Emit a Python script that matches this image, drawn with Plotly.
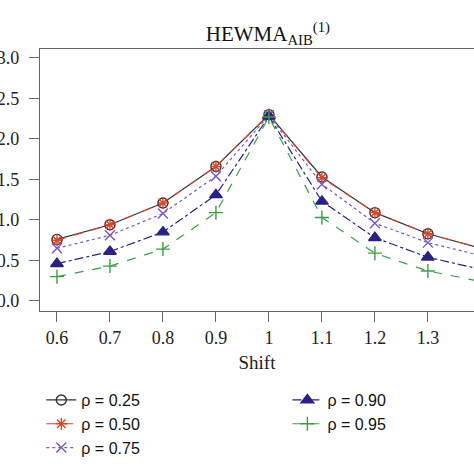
import plotly.graph_objects as go

shift = [0.6, 0.7, 0.8, 0.9, 1.0, 1.1, 1.2, 1.3, 1.4]
tick_labels = ['0.6', '0.7', '0.8', '0.9', '1', '1.1', '1.2', '1.3', '1.4']

rho_025 = [0.76, 0.94, 1.21, 1.66, 2.30, 1.53, 1.09, 0.83, 0.65]
rho_050 = [0.75, 0.94, 1.21, 1.66, 2.30, 1.52, 1.09, 0.83, 0.65]
rho_075 = [0.65, 0.81, 1.08, 1.54, 2.29, 1.44, 0.96, 0.72, 0.56]
rho_090 = [0.46, 0.61, 0.85, 1.31, 2.28, 1.23, 0.78, 0.54, 0.39]
rho_095 = [0.30, 0.43, 0.64, 1.09, 2.27, 1.03, 0.59, 0.37, 0.24]

serif = 'Liberation Serif'
sans = 'Liberation Sans'

fig = go.Figure()

# (values, name, colour, dash, marker symbol, legend)
series = [
    (rho_025, 'ρ = 0.25', '#333333', 'solid', 'circle-open', 'legend'),
    (rho_050, 'ρ = 0.50', '#d9472b', 'dash', 'asterisk-open', 'legend'),
    (rho_075, 'ρ = 0.75', '#7a58c0', 'dot', 'x-thin-open', 'legend'),
    (rho_090, 'ρ = 0.90', '#2a2185', 'dashdot', 'triangle-up', 'legend2'),
    (rho_095, 'ρ = 0.95', '#3a9e45', 'dash', 'cross-thin-open', 'legend2'),
]

for vals, name, col, dash, sym, leg in series:
    fig.add_trace(go.Scatter(
        x=shift, y=vals, name=name, mode='lines+markers', legend=leg,
        line=dict(color=col, width=1.2, dash=dash),
        marker=dict(symbol=sym, size=10 if sym != 'triangle-up' else 11,
                    color=col, line=dict(color=col, width=1.4)),
    ))

fig.update_layout(
    width=474, height=474,
    margin=dict(l=40, r=0, t=49, b=163),
    plot_bgcolor='white', paper_bgcolor='white',
    font=dict(family=serif, size=18, color='#222222'),
    title=dict(text='HEWMA<sub>AIB</sub><sup>(1)</sup>', x=0.525, xref='paper',
               xanchor='center', y=0.93, yref='container', yanchor='middle',
               font=dict(family=serif, size=21, color='#111111')),
    xaxis=dict(range=[0.568, 1.387], tickvals=shift, ticktext=tick_labels,
               showline=True, mirror=True, linecolor='#666666', linewidth=1.2,
               ticks='outside', ticklen=10, tickcolor='#666666', showgrid=False,
               zeroline=False, automargin=False, ticklabelstandoff=0,
               title=dict(text='Shift', standoff=8, font=dict(size=19))),
    yaxis=dict(range=[-0.124, 3.11], tickvals=[0, 0.5, 1, 1.5, 2, 2.5, 3],
               tickformat='.1f', showline=True, mirror=False, linecolor='#666666',
               linewidth=1.2, ticks='outside', ticklen=10, tickcolor='#666666',
               showgrid=False, zeroline=False, automargin=False,
               ticklabelstandoff=6),
    legend=dict(x=0.003, y=-0.275, xanchor='left', yanchor='top',
                font=dict(family=sans, size=16, color='#111111'),
                bgcolor='rgba(0,0,0,0)', itemwidth=30),
    legend2=dict(x=0.57, y=-0.275, xanchor='left', yanchor='top',
                 font=dict(family=sans, size=16, color='#111111'),
                 bgcolor='rgba(0,0,0,0)', itemwidth=30),
)

fig.write_html("out.html", config={'displayModeBar': False},
               post_script="document.body.style.margin='0';")
